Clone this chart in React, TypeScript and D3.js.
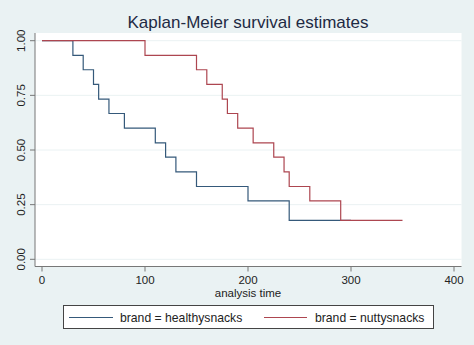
import React from "react";
import * as d3 from "d3";

const healthyTimes = [0, 30, 40, 50, 55, 65, 80, 110, 120, 130, 150, 200, 240, 300];
const healthySurv = [1, 0.933, 0.867, 0.8, 0.733, 0.667, 0.6, 0.533, 0.467, 0.4, 0.333, 0.267, 0.178, 0.178];
const nuttyTimes = [0, 100, 150, 160, 175, 180, 190, 205, 225, 235, 240, 260, 290, 350];
const nuttySurv = [1, 0.933, 0.867, 0.8, 0.733, 0.667, 0.6, 0.533, 0.467, 0.4, 0.333, 0.267, 0.178, 0.178];
const xTicks = [0, 100, 200, 300, 400];
const yTicks = [0, 0.25, 0.5, 0.75, 1];
const seriesLabels = ["brand = healthysnacks", "brand = nuttysnacks"];
const title = "Kaplan-Meier survival estimates";
const xTitle = "analysis time";

const W = 474, H = 345;
const BG = "#eaf2f3";
const BLUE = "#35597a";
const RED = "#ad4650";
const FONT = "'Liberation Sans', Arial, sans-serif";

export default function App() {
  const x = d3.scaleLinear().domain([0, 400]).range([42, 454]);
  const y = d3.scaleLinear().domain([0, 1]).range([259.3, 40.7]);
  const plotL = 35, plotR = 461.5, plotT = 33, plotB = 266.5;
  const line = d3.line<[number, number]>().x(d => x(d[0])).y(d => y(d[1])).curve(d3.curveStepAfter);
  const hData = healthyTimes.map((t, i) => [t, healthySurv[i]] as [number, number]);
  const nData = nuttyTimes.map((t, i) => [t, nuttySurv[i]] as [number, number]);
  return (
    <svg width={W} height={H} style={{ position: "absolute", left: 0, top: 0 }} fontFamily={FONT}>
      <rect x={0} y={0} width={W} height={H} fill={BG} />
      <rect x={plotL} y={plotT} width={plotR - plotL} height={plotB - plotT} fill="#ffffff" />
      {yTicks.map(t => (
        <line key={"g" + t} x1={plotL} x2={plotR} y1={y(t)} y2={y(t)} stroke={BG} strokeWidth={1} />
      ))}
      <text x={248} y={28} textAnchor="middle" fontSize={17} fill="#1e2a44">{title}</text>
      <line x1={plotL} x2={plotL} y1={plotT} y2={plotB} stroke="#777" strokeWidth={1} />
      <line x1={plotL} x2={plotR} y1={plotB} y2={plotB} stroke="#777" strokeWidth={1} />
      {yTicks.map(t => (
        <g key={"y" + t}>
          <line x1={plotL - 5} x2={plotL} y1={y(t)} y2={y(t)} stroke="#777" strokeWidth={1} />
          <text transform={`translate(25,${y(t)}) rotate(-90)`} textAnchor="middle" fontSize={11.5} fill="#222">
            {d3.format(".2f")(t)}
          </text>
        </g>
      ))}
      {xTicks.map(t => (
        <g key={"x" + t}>
          <line x1={x(t)} x2={x(t)} y1={plotB} y2={plotB + 5} stroke="#777" strokeWidth={1} />
          <text x={x(t)} y={284} textAnchor="middle" fontSize={11.5} fill="#222">{t}</text>
        </g>
      ))}
      <text x={248} y={297} textAnchor="middle" fontSize={11.5} fill="#222">{xTitle}</text>
      <path d={line(hData) || ""} fill="none" stroke={BLUE} strokeWidth={1.2} />
      <path d={line(nData) || ""} fill="none" stroke={RED} strokeWidth={1.2} />
      <rect x={63.5} y={305.5} width={370} height={23} fill="#ffffff" stroke="#444" strokeWidth={1} />
      <line x1={69} x2={113} y1={317.5} y2={317.5} stroke={BLUE} strokeWidth={1.2} />
      <text x={120} y={322} fontSize={12.2} fill="#222">{seriesLabels[0]}</text>
      <line x1={264} x2={307} y1={317.5} y2={317.5} stroke={RED} strokeWidth={1.2} />
      <text x={315} y={322} fontSize={12.2} fill="#222">{seriesLabels[1]}</text>
    </svg>
  );
}
